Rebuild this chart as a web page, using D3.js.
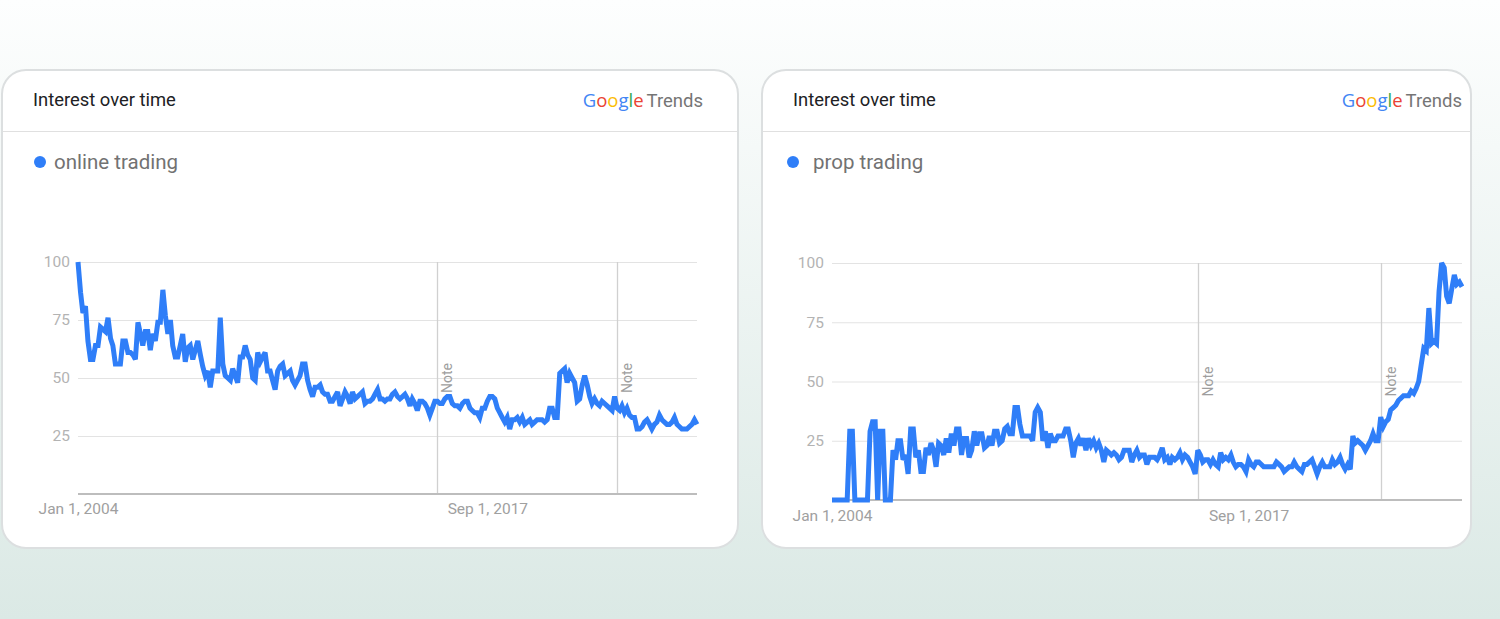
<!DOCTYPE html>
<html>
<head>
<meta charset="utf-8">
<script src="https://cdn.jsdelivr.net/npm/d3@7"></script>
<style>
  html, body { margin: 0; padding: 0; }
  svg { display: block; font-family: Roboto, "Noto Sans", sans-serif; }
</style>
</head>
<body>
<svg id="chart" width="1500" height="619"></svg>
<script>
// ---------- data ----------
const startMonth = "2004-01-01";
const endMonth = "2024-09-01";
const xTickDates = ["2004-01-01", "2017-09-01"];
const xTickLabels = ["Jan 1, 2004", "Sep 1, 2017"];
const noteDates = ["2016-01-01", "2022-01-01"];
const noteLabel = "Note";
const yTickValues = [25, 50, 75, 100];
const chartTitle = "Interest over time";
const seriesNames = ["online trading", "prop trading"];

const onlineTrading = [
  100, 87, 78, 81, 66, 58, 58, 64, 64, 72, 71, 70, 76, 67, 64, 56, 56, 56, 66, 66,
  61, 61, 60, 58, 74, 69, 64, 70, 70, 62, 69, 66, 74, 74, 88, 77, 69, 75, 64, 59,
  59, 64, 69, 57, 63, 64, 58, 62, 66, 60, 55, 51, 53, 46, 53, 53, 53, 76, 56, 51,
  50, 49, 54, 51, 48, 59, 59, 64, 60, 58, 50, 49, 61, 57, 59, 61, 53, 53, 49, 45,
  53, 55, 56, 51, 52, 53, 49, 47, 49, 51, 56, 56, 49, 45, 42, 46, 46, 47, 44, 43,
  43, 40, 40, 42, 44, 38, 41, 44, 42, 39, 44, 41, 42, 43, 44, 39, 40, 40, 41, 43,
  45, 41, 41, 40, 41, 41, 43, 44, 42, 41, 42, 43, 41, 38, 41, 39, 36, 40, 40, 39,
  37, 34, 37, 40, 40, 39, 39, 41, 42, 42, 39, 38, 38, 37, 39, 40, 40, 37, 36, 35,
  35, 33, 37, 37, 40, 42, 42, 41, 37, 35, 33, 31, 33, 28, 32, 32, 33, 31, 33, 30,
  31, 32, 30, 31, 32, 32, 32, 31, 32, 37, 37, 33, 33, 52, 53, 54, 48, 52, 50, 48,
  40, 41, 47, 51, 47, 42, 39, 41, 39, 38, 40, 39, 38, 37, 36, 42, 37, 36, 38, 35,
  37, 34, 33, 33, 28, 28, 29, 31, 32, 30, 28, 30, 31, 34, 32, 31, 30, 30, 31, 33,
  30, 29, 28, 28, 28, 29, 30, 32, 30
];

const propTrading = [
  0, 0, 0, 0, 0, 0, 0, 29, 29, 0, 0, 0, 0, 0, 0, 29, 33, 33, 0, 29,
  29, 0, 0, 0, 21, 17, 25, 25, 17, 19, 11, 30, 30, 18, 21, 12, 12, 22, 19, 24,
  21, 14, 24, 23, 19, 26, 20, 28, 23, 30, 30, 19, 26, 26, 18, 21, 29, 23, 28, 28,
  22, 23, 27, 23, 29, 29, 24, 25, 30, 31, 28, 28, 39, 39, 32, 27, 27, 27, 27, 25,
  37, 39, 37, 25, 29, 22, 28, 25, 25, 27, 27, 27, 30, 30, 25, 18, 24, 26, 23, 26,
  21, 26, 23, 25, 22, 24, 21, 16, 21, 20, 19, 20, 19, 17, 18, 21, 21, 21, 16, 19,
  21, 18, 19, 19, 15, 18, 18, 18, 17, 19, 22, 17, 18, 15, 18, 17, 18, 20, 17, 19,
  18, 16, 14, 11, 21, 19, 16, 17, 17, 15, 17, 15, 14, 20, 17, 18, 17, 19, 16, 14,
  15, 15, 14, 12, 17, 15, 14, 16, 16, 15, 14, 14, 14, 14, 14, 16, 15, 14, 12, 13,
  14, 14, 16, 14, 13, 12, 15, 15, 16, 17, 14, 11, 14, 16, 14, 14, 14, 17, 15, 16,
  18, 15, 13, 15, 13, 27, 24, 25, 24, 23, 21, 23, 25, 28, 25, 25, 35, 31, 33, 34,
  38, 39, 40, 42, 43, 44, 44, 44, 46, 45, 47, 50, 57, 64, 63, 81, 66, 67, 66, 88,
  100, 98, 86, 83, 89, 95, 91, 92, 90
];

// ---------- layout ----------
const panels = [
  { name: seriesNames[0], values: onlineTrading,
    card: { x: 2, y: 70, w: 736, h: 478 },
    plot: { x0: 78, x1: 697, y0: 494, y1: 262 },
    titleX: 33, logoRight: 703, dotX: 40, legendX: 54, xLabelPad: 9 },
  { name: seriesNames[1], values: propTrading,
    card: { x: 762, y: 70, w: 709, h: 478 },
    plot: { x0: 832, x1: 1462, y0: 500, y1: 263 },
    titleX: 793, logoRight: 1462, dotX: 793, legendX: 813, xLabelPad: 10 }
];

const LINE_COLOR = "#2f7ef8";
const svg = d3.select("#chart");

// background gradient
const defs = svg.append("defs");
const grad = defs.append("linearGradient").attr("id", "bg")
  .attr("x1", 0).attr("y1", 0).attr("x2", 0).attr("y2", 1);
grad.append("stop").attr("offset", "0%").attr("stop-color", "#fdfefe");
grad.append("stop").attr("offset", "100%").attr("stop-color", "#dbe9e5");
svg.append("rect").attr("width", 1500).attr("height", 619).attr("fill", "url(#bg)");

const parse = d3.timeParse("%Y-%m-%d");
const start = parse(startMonth);
const end = parse(endMonth);

const googleLetters = [
  { t: "G", c: "#4285F4" }, { t: "o", c: "#EA4335" }, { t: "o", c: "#FBBC05" },
  { t: "g", c: "#4285F4" }, { t: "l", c: "#34A853" }, { t: "e", c: "#EA4335" }
];

panels.forEach(p => {
  const g = svg.append("g");
  const c = p.card;

  // card
  g.append("rect").attr("x", c.x).attr("y", c.y).attr("width", c.w).attr("height", c.h)
    .attr("rx", 24).attr("ry", 24).attr("fill", "#ffffff")
    .attr("stroke", "#dcdfe0").attr("stroke-width", 2);
  g.append("line").attr("x1", c.x + 1).attr("x2", c.x + c.w - 1)
    .attr("y1", 131.5).attr("y2", 131.5).attr("stroke", "#e0e0e0").attr("stroke-width", 1);

  // title
  g.append("text").attr("x", p.titleX).attr("y", 106).attr("font-size", 18.4)
    .attr("fill", "#202124").text(chartTitle);

  // logo
  const logo = g.append("text").attr("x", p.logoRight).attr("y", 107)
    .attr("text-anchor", "end").attr("font-size", 18.5).attr("font-family", "'Open Sans', Roboto, sans-serif");
  googleLetters.forEach(l => logo.append("tspan").attr("fill", l.c).text(l.t));
  logo.append("tspan").attr("fill", "#757575").attr("dx", 3).attr("font-family", "Roboto, sans-serif").text("Trends");

  // legend
  g.append("circle").attr("cx", p.dotX).attr("cy", 162).attr("r", 6).attr("fill", LINE_COLOR);
  g.append("text").attr("x", p.legendX).attr("y", 169).attr("font-size", 20.5)
    .attr("fill", "#727272").text(p.name);

  // scales
  const pl = p.plot;
  const x = d3.scaleTime().domain([start, end]).range([pl.x0, pl.x1]);
  const y = d3.scaleLinear().domain([0, 100]).range([pl.y0, pl.y1]);

  // y axis + gridlines
  const yAxis = g.append("g").attr("transform", `translate(${pl.x0},0)`)
    .call(d3.axisLeft(y).tickValues(yTickValues).tickSize(-(pl.x1 - pl.x0)).tickPadding(8));
  yAxis.select(".domain").remove();
  yAxis.selectAll(".tick line").attr("stroke", "#e3e3e3").attr("stroke-width", 1.2);
  yAxis.selectAll(".tick text").attr("fill", "#b3b3b3").attr("font-size", 15.5)
    .attr("font-family", "Roboto, sans-serif");

  // note lines
  noteDates.forEach(nd => {
    const nx = Math.round(x(parse(nd))) + 0.5;
    g.append("line").attr("x1", nx).attr("x2", nx).attr("y1", pl.y1).attr("y2", pl.y0)
      .attr("stroke", "#d0d0d0").attr("stroke-width", 1.3);
    const my = (pl.y0 + pl.y1) / 2;
    g.append("text").attr("transform", `translate(${nx + 14.5},${my}) rotate(-90)`)
      .attr("text-anchor", "middle").attr("font-size", 14).attr("fill", "#9e9e9e")
      .text(noteLabel);
  });

  // baseline
  g.append("line").attr("x1", pl.x0).attr("x2", pl.x1).attr("y1", pl.y0).attr("y2", pl.y0)
    .attr("stroke", "#bdbdbd").attr("stroke-width", 2);

  // x axis
  const xAxis = g.append("g").attr("transform", `translate(0,${pl.y0})`)
    .call(d3.axisBottom(x).tickValues(xTickDates.map(parse))
      .tickFormat((d, i) => xTickLabels[i]).tickSize(0).tickPadding(p.xLabelPad));
  xAxis.select(".domain").remove();
  xAxis.selectAll(".tick text").attr("fill", "#a0a0a0").attr("font-size", 15.5)
    .attr("font-family", "Roboto, sans-serif");

  // line
  const data = p.values.map((v, i) => ({ date: d3.timeMonth.offset(start, i), value: v }));
  const line = d3.line().x(d => x(d.date)).y(d => y(d.value));
  g.append("path").datum(data).attr("d", line).attr("fill", "none")
    .attr("stroke", LINE_COLOR).attr("stroke-width", 5).attr("stroke-linejoin", "miter")
    .attr("stroke-miterlimit", 3).attr("stroke-linecap", "butt");
});
</script>
</body>
</html>
